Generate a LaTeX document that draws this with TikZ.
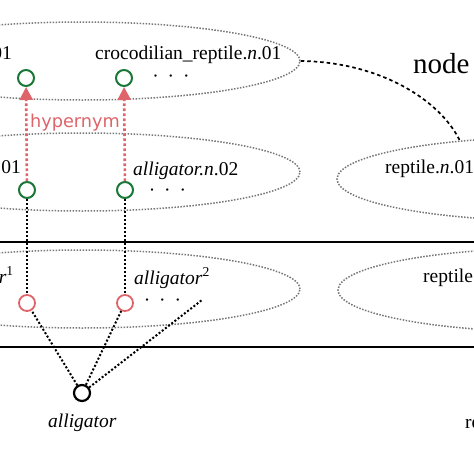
\documentclass[tikz,border=0pt]{standalone}
\usepackage{fontspec}
\setmainfont{Liberation Serif}
\newfontfamily\hyfont{DejaVu Sans}
\usetikzlibrary{shapes.geometric,arrows.meta}
\definecolor{dgreen}{RGB}{25,120,55}
\definecolor{lred}{RGB}{222,100,105}
\definecolor{egray}{RGB}{118,118,118}
\begin{document}
\begin{tikzpicture}[x=1pt,y=-1pt,
  synset/.style={ellipse, draw=egray, line width=1.5pt, dash pattern=on 1.5pt off 1.5pt, inner sep=0pt},
  gcirc/.style={circle, draw=dgreen, line width=2pt, minimum size=16pt, inner sep=0pt},
  rcirc/.style={circle, draw=lred, line width=1.8pt, minimum size=16pt, inner sep=0pt},
  kcirc/.style={circle, draw=black, line width=2.2pt, minimum size=16pt, inner sep=0pt},
  lbl/.style={inner sep=0pt, font=\fontsize{19.5}{22}\selectfont},
  dotsl/.style={inner sep=0pt, anchor=base, font=\fontsize{19.5}{22}\selectfont},
  bdot/.style={line width=2pt, dash pattern=on 2pt off 2pt},
  rarrow/.style={draw=lred, line width=2.6pt, dash pattern=on 2.6pt off 2.4pt,
    -{Triangle[length=13pt,width=13pt,fill=lred]}},
  dashcurve/.style={line width=1.7pt, dash pattern=on 3.5pt off 3pt},
  sepline/.style={line width=2.4pt}
]
\useasboundingbox (0,0) rectangle (474,474);
\clip (0,0) rectangle (474,474);

% synset ellipses
\node[synset, minimum width=436pt, minimum height=78pt] (e1) at (82,61) {};
\node[synset, minimum width=436pt, minimum height=78pt] (e2) at (82,172) {};
\node[synset, minimum width=436pt, minimum height=84pt] (e3) at (555,179) {};
\node[synset, minimum width=436pt, minimum height=78pt] (e4) at (82,289) {};
\node[synset, minimum width=436pt, minimum height=84pt] (e5) at (556,290) {};

% separating lines
\draw[sepline] (0,242) -- (474,242);
\draw[sepline] (0,347) -- (474,347);

% circles
\node[gcirc] (g1) at (26,78) {};
\node[gcirc] (g2) at (124,78) {};
\node[gcirc] (g3) at (27,190) {};
\node[gcirc] (g4) at (125,190) {};
\node[rcirc] (r1) at (27,303) {};
\node[rcirc] (r2) at (125,303) {};
\node[kcirc] (k) at (82,393) {};
\coordinate (free) at (202,300);

% dots
\node[dotsl] (d1) at (171,82.5) {·\hspace{9pt}·\hspace{9pt}·};
\node[dotsl] (d2) at (167.5,196.5) {·\hspace{9pt}·\hspace{9pt}·};
\node[dotsl] (d3) at (162.5,306.5) {·\hspace{9pt}·\hspace{9pt}·};

% labels
\node[lbl, anchor=base east] (t1) at (12,59) {leather.\textit{n}.01};
\node[lbl, anchor=base west] (t2) at (95,59) {crocodilian\_reptile.\textit{n}.01};
\node[inner sep=0pt, anchor=base west, font=\fontsize{29}{32}\selectfont] (t3) at (413,73) {node};
\node[lbl, anchor=base east] (t4) at (21,173) {alligator.\textit{n}.01};
\node[lbl, anchor=base west] (t5) at (133,175) {\textit{alligator.n}.02};
\node[lbl, anchor=base west] (t6) at (385,173) {reptile.\textit{n}.01};
\node[lbl, anchor=base east] (t7) at (14,283) {\textit{alligator}\textsuperscript{1}};
\node[lbl, anchor=base west] (t8) at (134,284) {\textit{alligator}\textsuperscript{2}};
\node[lbl, anchor=base west] (t9) at (423,282) {reptile};
\node[lbl, anchor=base west] (t10) at (48,427) {\textit{alligator}};
\node[lbl, anchor=base west] (t11) at (465,428) {re};
\node[inner sep=0pt, anchor=base, text=lred, font=\hyfont\fontsize{17.7}{20}\selectfont] (hy) at (75,127) {hypernym};

% connectors
\draw[rarrow] (g3) -- (g1);
\draw[rarrow] (g4) -- (g2);
\draw[bdot] (g3) -- (r1);
\draw[bdot] (g4) -- (r2);
\draw[bdot] (k) -- (r1);
\draw[bdot] (k) -- (r2);
\draw[bdot] (k) -- (free);
\draw[dashcurve] (e1.east) .. controls (380,62) and (440,100) .. (e3.158);
\end{tikzpicture}
\end{document}
